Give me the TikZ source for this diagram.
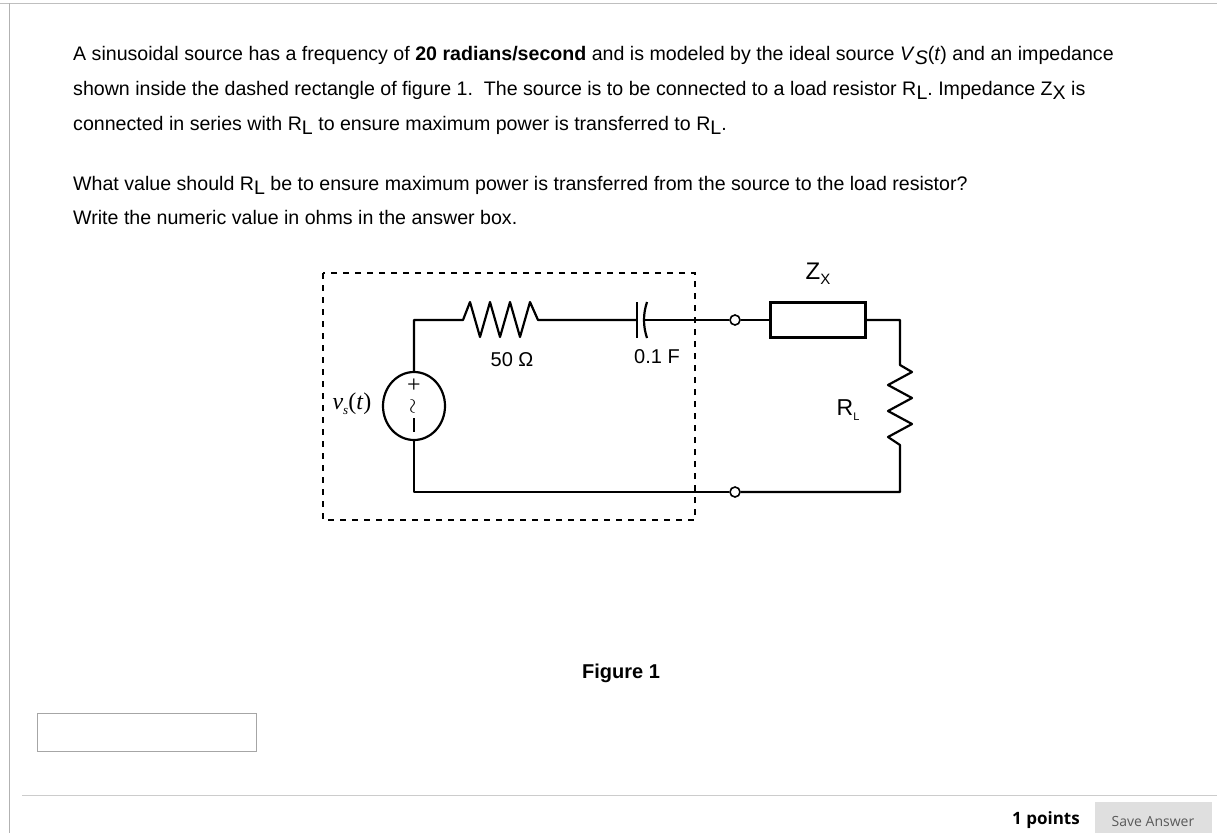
\documentclass[tikz,border=0pt]{standalone}
\usepackage{fontspec}
\usetikzlibrary{shapes.geometric}
\setmainfont{Liberation Sans}
\newfontfamily\osans{Open Sans}
\newfontfamily\tms{Liberation Serif}
\begin{document}
\begin{tikzpicture}[x=1pt,y=-1pt,
  txt/.style={anchor=base west,inner sep=0,font=\fontsize{19.6}{22}\selectfont},
  wire/.style={line width=2.2pt,line join=round},
  term/.style={circle,draw,line width=1.6pt,fill=white,minimum size=10pt,inner sep=0}]
\useasboundingbox (0,0) rectangle (1217,833);
\draw[gray!50] (0,3) -- (1217,3);
\draw[gray!60] (9,3) -- (9,833);
% text
\node[txt] at (73,60) {A sinusoidal source has a frequency of \textbf{20 radians/second} and is modeled by the ideal source \textit{V}\raisebox{-4pt}{\textit{S}}(\textit{t}) and an impedance};
\node[txt] at (73,95) {shown inside the dashed rectangle of figure 1.\ \ The source is to be connected to a load resistor R\raisebox{-4pt}{L}.\ Impedance Z\raisebox{-4pt}{X} is};
\node[txt] at (73,130) {connected in series with R\raisebox{-4pt}{L} to ensure maximum power is transferred to R\raisebox{-4pt}{L}.};
\node[txt] at (73,190) {What value should R\raisebox{-4pt}{L} be to ensure maximum power is transferred from the source to the load resistor?};
\node[txt] at (73,224) {Write the numeric value in ohms in the answer box.};
% dashed box
\draw[line width=1.6pt,dash pattern=on 6pt off 6pt] (323,273) rectangle (695,520);
% circuit
\coordinate (tl) at (414,320);
\coordinate (bl) at (414,492);
\coordinate (tr) at (900,320);
\coordinate (br) at (900,492);
\node[draw,line width=2.2pt,ellipse,minimum width=62pt,minimum height=68pt,inner sep=0] (src) at (414,406) {};
\node[font=\tms\fontsize{24}{24}\selectfont,inner sep=0] at (414,386) {+};
\node[font=\fontsize{22}{22}\selectfont,rotate=90,inner sep=0] at (414,406) {$\sim$};
\draw[line width=1.8pt] (414,418) -- (414,432);
\draw[wire] (src.north) -- (tl) -- (463,320) -- (470,302) -- (480,337) -- (490,302) -- (500,337) -- (510,302) -- (520,337) -- (530,302) -- (538,320) -- (637,320);
\draw[wire] (637,302) -- (637,338);
\draw[wire] (647,302) .. controls (643,314) and (643,326) .. (647,338);
\node[term] (t1) at (735,320) {};
\node[term] (t2) at (735,492) {};
\draw[wire] (645,320) -- (t1);
\node[draw,line width=2.2pt,minimum width=95pt,minimum height=35pt,inner sep=0] (zx) at (818,320) {};
\draw[wire] (t1) -- (zx.west);
\draw[wire] (zx.east) -- (tr) -- (900,365) -- (912,372) -- (888,385) -- (912,398) -- (888,411) -- (912,424) -- (888,437) -- (900,445) -- (br) -- (t2);
\draw[wire] (t2) -- (bl) -- (src.south);
\node[font=\fontsize{20}{20}\selectfont] at (512,360) {50 Ω};
\node[font=\fontsize{20}{20}\selectfont] at (657,357) {0.1 F};
\node[font=\fontsize{24}{24}\selectfont] at (818,274) {Z\raisebox{-5pt}{\fontsize{15}{15}\selectfont X}};
\node[font=\fontsize{23}{23}\selectfont] at (848,410) {R\raisebox{-5pt}{\fontsize{11}{11}\selectfont L}};
\node[font=\tms\fontsize{24}{24}\selectfont] at (352,404) {\textit{v}\raisebox{-5pt}{\fontsize{13}{13}\selectfont\textit{s}}(\textit{t})};
\node[font=\bfseries\fontsize{20}{22}\selectfont] at (621,673) {Figure 1};
% answer area
\draw[gray!70] (37,713) rectangle (256,751);
\draw[gray!40] (22,795) -- (1217,795);
\node[font=\osans\bfseries\fontsize{17}{19}\selectfont] at (1046,820) {1 points};
\fill[gray!25] (1095,802) rectangle (1212,833);
\node[font=\osans\fontsize{14}{16}\selectfont,text=gray!70!black] at (1153,821) {Save Answer};
\end{tikzpicture}
\end{document}
